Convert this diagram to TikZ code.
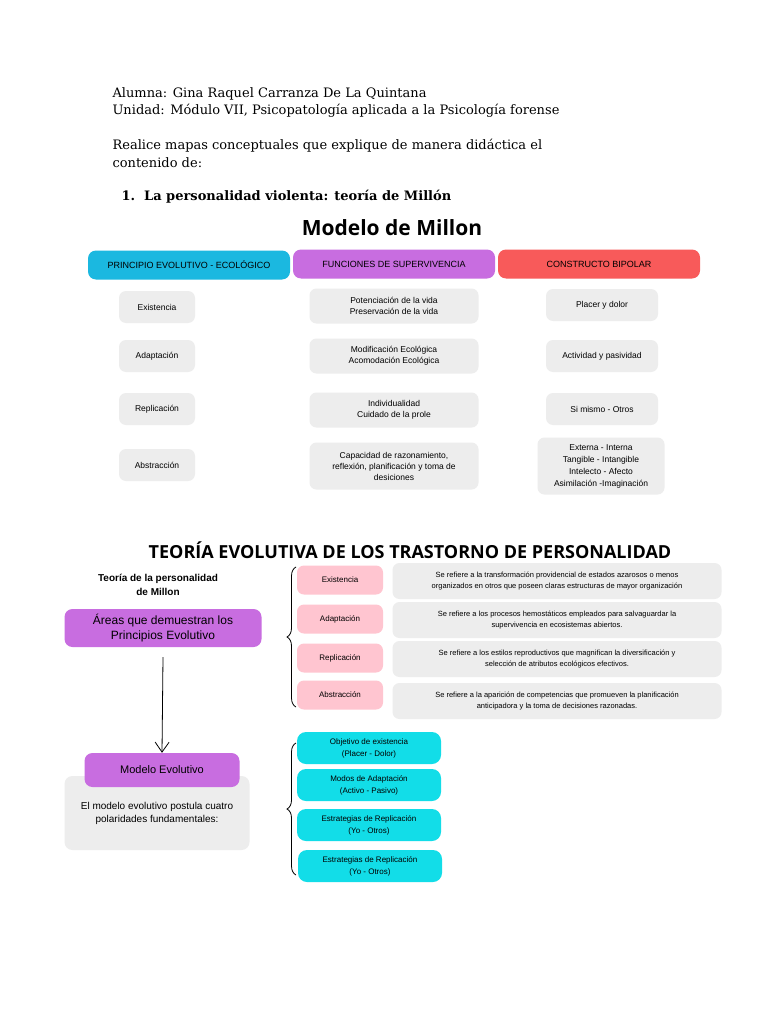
\documentclass[tikz,border=0pt]{standalone}
\usepackage{fontspec}
\setmainfont{DejaVu Serif}
\newfontfamily\sans{Liberation Sans}
\newfontfamily\sansb{Open Sans}
\usetikzlibrary{decorations.pathreplacing,arrows.meta}
\definecolor{cyanh}{HTML}{1BB8E0}
\definecolor{purph}{HTML}{C86DE0}
\definecolor{redh}{HTML}{F85A5A}
\definecolor{gbox}{HTML}{EDEDED}
\definecolor{pinkb}{HTML}{FFC5D0}
\definecolor{cyanb}{HTML}{12DDE8}
\tikzset{
 hdr/.style={rounded corners=8pt,minimum height=29pt,minimum width=202pt,font=\sans\fontsize{9}{10}\selectfont},
 gb/.style={fill=gbox,rounded corners=7pt,align=center,font=\sans\fontsize{8.5}{11}\selectfont,inner sep=2pt},
 pk/.style={fill=pinkb,rounded corners=7pt,minimum width=86pt,minimum height=29pt,font=\sans\fontsize{8}{10}\selectfont},
 cy/.style={fill=cyanb,rounded corners=9pt,minimum width=144pt,minimum height=32pt,align=center,font=\sans\fontsize{8}{12}\selectfont},
 brace/.style={decorate,decoration={brace,amplitude=9pt},thick}
}
\begin{document}
\begin{tikzpicture}[x=1pt,y=-1pt]
\useasboundingbox[fill=white] (0,0) rectangle (768,1024);
\node[anchor=west,font=\fontsize{13}{15}\selectfont] (l1) at (109,94) {Alumna: Gina Raquel Carranza De La Quintana};
\node[anchor=west,font=\fontsize{13}{15}\selectfont] (l2) at (109,111) {Unidad: Módulo VII, Psicopatología aplicada a la Psicología forense};
\node[anchor=west,font=\fontsize{13}{15}\selectfont] (l3) at (109,146) {Realice mapas conceptuales que explique de manera didáctica el};
\node[anchor=west,font=\fontsize{13}{15}\selectfont] (l4) at (109,163) {contenido de:};
\node[anchor=west,font=\bfseries\fontsize{13}{15}\selectfont] (l5) at (118,197) {1.\ \ La personalidad violenta: teoría de Millón};
\node[font=\sansb\bfseries\fontsize{21}{24}\selectfont] (t1) at (392,228) {Modelo de Millon};
\node[hdr,fill=cyanh] (h1) at (189,265) {PRINCIPIO EVOLUTIVO - ECOLÓGICO};
\node[hdr,fill=purph] (h2) at (394,264) {FUNCIONES DE SUPERVIVENCIA};
\node[hdr,fill=redh] (h3) at (599,264) {CONSTRUCTO BIPOLAR};
\foreach \n/\y/\t in {a/307/Existencia,b/356/Adaptación,c/409/Replicación,d/465/Abstracción}
  \node[gb,minimum width=76pt,minimum height=32pt] (c1\n) at (157,\y) {\t};
\node[gb,minimum width=169pt,minimum height=35pt] (c2a) at (394,306) {Potenciación de la vida\\Preservación de la vida};
\node[gb,minimum width=169pt,minimum height=35pt] (c2b) at (394,356) {Modificación Ecológica\\Acomodación Ecológica};
\node[gb,minimum width=169pt,minimum height=35pt] (c2c) at (394,410) {Individualidad\\Cuidado de la prole};
\node[gb,minimum width=169pt,minimum height=47pt] (c2d) at (394,466) {Capacidad de razonamiento,\\reflexión, planificación y toma de\\desiciones};
\node[gb,minimum width=112pt,minimum height=32pt] (c3a) at (602,305) {Placer y dolor};
\node[gb,minimum width=112pt,minimum height=32pt] (c3b) at (602,356) {Actividad y pasividad};
\node[gb,minimum width=112pt,minimum height=32pt] (c3c) at (602,409) {Si mismo - Otros};
\node[gb,minimum width=127pt,minimum height=57pt,font=\sans\fontsize{8.5}{12}\selectfont] (c3d) at (601,466) {Externa - Interna\\Tangible - Intangible\\Intelecto - Afecto\\Asimilación -Imaginación};
\node[font=\sansb\bfseries\fontsize{18}{21}\selectfont] (t2) at (410,550) {TEORÍA EVOLUTIVA DE LOS TRASTORNO DE PERSONALIDAD};
\node[align=center,font=\sans\bfseries\fontsize{10}{14}\selectfont] (tp) at (158,585) {Teoría de la personalidad\\de Millon};
\node[fill=purph,rounded corners=8pt,minimum width=197pt,minimum height=38pt,align=center,font=\sans\fontsize{12}{15}\selectfont] (ar) at (163,628) {Áreas que demuestran los\\Principios Evolutivo};
\node[fill=gbox,rounded corners=8pt,minimum width=185pt,minimum height=74pt] (mg) at (157,813) {};
\node[fill=purph,rounded corners=8pt,minimum width=155pt,minimum height=34pt,font=\sans\fontsize{11}{13}\selectfont] (me) at (162,770) {Modelo Evolutivo};
\node[align=center,font=\sans\fontsize{10}{13}\selectfont] (mt) at (157,813) {El modelo evolutivo postula cuatro\\polaridades fundamentales:};
\draw[thick,-{Straight Barb[length=10pt,width=14pt]}] (ar.south)+(0,10) coordinate (as) -- (me.north);
\foreach \n/\y/\t in {a/580/Existencia,b/619/Adaptación,c/658/Replicación,d/695/Abstracción}
  \node[pk] (p\n) at (340,\y) {\t};
\node[gb,minimum width=329pt,minimum height=36pt,font=\sans\fontsize{7.5}{11}\selectfont] (ga) at (557,581) {Se refiere a la transformación providencial de estados azarosos o menos\\organizados en otros que poseen claras estructuras de  mayor organización};
\node[gb,minimum width=329pt,minimum height=36pt,font=\sans\fontsize{7.5}{11}\selectfont] (gbx) at (557,620) {Se refiere a los procesos hemostáticos empleados para salvaguardar la\\supervivencia en ecosistemas abiertos.};
\node[gb,minimum width=329pt,minimum height=36pt,font=\sans\fontsize{7.5}{11}\selectfont] (gc) at (557,659) {Se refiere a los estilos reproductivos que magnifican la diversificación y\\selección de atributos ecológicos efectivos.};
\node[gb,minimum width=329pt,minimum height=36pt,font=\sans\fontsize{7.5}{11}\selectfont] (gd) at (557,701) {Se refiere a la aparición de competencias que promueven la planificación\\anticipadora y la toma de decisiones razonadas.};
\coordinate (b1t) at (296,567); \coordinate (b1b) at (296,707);
\draw[brace] (b1b) -- (b1t);
\node[cy] (ya) at (369,748) {Objetivo de existencia\\(Placer - Dolor)};
\node[cy] (yb) at (369,785) {Modos de Adaptación\\(Activo - Pasivo)};
\node[cy] (yc) at (369,825) {Estrategias de Replicación\\(Yo - Otros)};
\node[cy] (yd) at (370,866) {Estrategias de Replicación\\(Yo - Otros)};
\coordinate (b2t) at (296,743); \coordinate (b2b) at (296,875);
\draw[brace] (b2b) -- (b2t);
\end{tikzpicture}
\end{document}
